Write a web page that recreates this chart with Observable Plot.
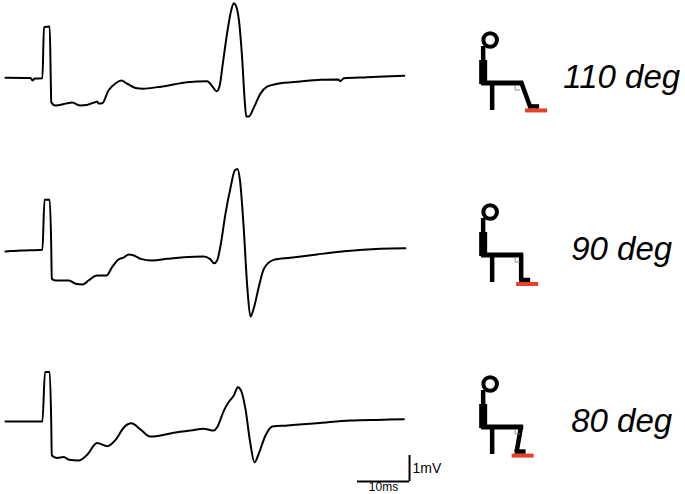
<!DOCTYPE html>
<html><head><meta charset="utf-8">
<script src="https://cdn.jsdelivr.net/npm/d3@7"></script>
<script src="https://cdn.jsdelivr.net/npm/@observablehq/plot@0.6"></script>
<style>html,body{margin:0;padding:0;background:#fff;} #chart{width:685px;height:494px;}</style>
</head><body><div id="chart"></div>
<script>
// Knee angles (one trace per posture)
const angles = [110, 90, 80];
const labels = angles.map(a => a + " deg");

// Traces: [time (ms), voltage (mV)]
const trace110 = [
  [0,-0.01],[4.8,-0.02],[5.2,-0.12],[5.6,-0.04],[7.1,-0.03],[7.4,1.93],[8.5,1.96],[8.7,0],
  [8.8,-0.95],[9.6,-1.08],[11.9,-0.99],[12.8,-0.96],[14.4,-1.08],[17.3,-0.95],[17.6,-0.92],
  [17.9,-1.0],[18.6,-0.99],[19.8,-0.5],[21.2,-0.22],[22.3,-0.12],[23.4,-0.24],[25.0,-0.40],
  [26.5,-0.43],[29.2,-0.37],[32.3,-0.27],[34.9,-0.18],[38.8,-0.14],[39.8,-0.35],[40.6,-0.53],
  [41.2,-0.31],[41.7,0.40],[42.6,1.68],[43.4,2.58],[43.9,2.86],[44.2,2.81],[44.9,2.19],
  [45.5,0.78],[46.0,-0.88],[46.3,-1.5],[46.8,-1.5],[47.8,-1.14],[49.0,-0.63],[50.3,-0.35],
  [52.3,-0.24],[56.7,-0.15],[60.6,-0.09],[64.0,-0.08],[64.4,-0.14],[65.1,-0.03],[69.6,0.01],
  [72.8,0.04],[76.7,0.07]
];
const trace90 = [
  [0,-0.08],[1.0,-0.06],[2.9,-0.04],[7.1,-0.01],[7.5,1.91],[8.5,1.91],[8.8,0.09],[8.9,-1.13],
  [9.6,-1.19],[12.2,-1.19],[13.5,-1.32],[14.8,-1.35],[16.0,-1.19],[17.6,-1.0],[18.6,-1.0],
  [19.4,-1.0],[20.5,-0.68],[21.5,-0.42],[22.8,-0.30],[23.7,-0.19],[24.7,-0.23],[26.0,-0.36],
  [28.2,-0.42],[31.1,-0.36],[34.3,-0.30],[38.1,-0.27],[39.3,-0.36],[40.1,-0.53],[40.7,-0.42],
  [41.3,0.09],[42.3,1.37],[43.3,2.40],[44.1,3.04],[44.6,3.10],[45.1,2.65],[45.8,0.86],
  [46.5,-1.45],[47.1,-2.58],[47.8,-2.22],[48.7,-1.45],[49.7,-0.74],[51.6,-0.40],[54.8,-0.32],
  [59.9,-0.19],[65.1,-0.07],[72.1,0.03],[76.9,0.05]
];
const trace80 = [
  [0,0],[4.2,0],[7.1,0],[7.6,1.9],[8.5,1.9],[8.8,-0.09],[8.9,-1.31],[9.9,-1.4],[11.2,-1.37],
  [12.2,-1.47],[14.1,-1.5],[15.7,-1.28],[17.6,-0.83],[19.6,-0.95],[21.2,-0.70],[22.8,-0.22],
  [24.2,-0.07],[26.0,-0.31],[27.8,-0.58],[29.8,-0.54],[33.0,-0.41],[35.6,-0.35],[38.1,-0.28],
  [40.1,-0.35],[40.7,-0.22],[42.0,0.42],[42.9,0.74],[43.9,1.0],[44.7,1.32],[45.3,1.19],
  [46.2,0.42],[47.0,-0.73],[47.9,-1.57],[48.7,-1.24],[50.0,-0.54],[51.3,-0.19],[54.2,-0.15],
  [59.9,-0.07],[66.3,0.04],[72.8,0.07],[76.6,0.09]
];
const traces = [trace110, trace90, trace80];

// Scale bar values
const scaleBarMs = 10;
const scaleBarMv = 1;
const scaleBarStartMs = 67.7;
const scaleBarLevelMv = -2.31;
const scaleBarLabels = ["10ms", "1mV"];

// ---- build ----
const rows = traces.flatMap((tr, i) => tr.map(([t, v]) => ({t, v, label: labels[i]})));
const bottom = labels[labels.length - 1];
const barH = [{x1: scaleBarStartMs, x2: scaleBarStartMs + scaleBarMs, y: scaleBarLevelMv, label: bottom}];
const barV = [{x: scaleBarStartMs + scaleBarMs, y1: scaleBarLevelMv, y2: scaleBarLevelMv + scaleBarMv, label: bottom}];
const labelX = 118.5;
const font = "'Liberation Sans', Arial, Helvetica, sans-serif";

const plot = Plot.plot({
  width: 685, height: 494,
  marginTop: 0, marginBottom: 0, marginLeft: 0, marginRight: 0,
  x: {domain: [-0.96, 130.77], axis: null},
  y: {domain: [-2.808, 2.962], axis: null},
  fy: {domain: labels, axis: null, paddingInner: 0.12791, paddingOuter: 0},
  style: {background: "#fff", fontFamily: font},
  marks: [
    Plot.line(rows, {x: "t", y: "v", fy: "label", z: "label", curve: "monotone-x", stroke: "#000", strokeWidth: 2, strokeLinejoin: "round", strokeLinecap: "round"}),
    Plot.text(labels, {x: () => labelX, y: () => 0, fy: d => d, text: d => d, fontSize: 33, fontStyle: "italic", fill: "#000", textAnchor: "middle", lineAnchor: "middle", fontFamily: font}),
    Plot.ruleY(barH, {x1: "x1", x2: "x2", y: "y", fy: "label", stroke: "#000", strokeWidth: 2}),
    Plot.ruleX(barV, {x: "x", y1: "y1", y2: "y2", fy: "label", stroke: "#000", strokeWidth: 2}),
    Plot.text(barH, {x: d => (d.x1 + d.x2) / 2, y: "y", fy: "label", text: () => scaleBarLabels[0], dy: 1, lineAnchor: "top", fontSize: 12, fill: "#000", fontFamily: font}),
    Plot.text(barV, {x: "x", y: d => (d.y1 + d.y2) / 2, fy: "label", text: () => scaleBarLabels[1], textAnchor: "start", lineAnchor: "middle", dx: 3, fontSize: 14, fill: "#000", fontFamily: font})
  ]
});
document.getElementById("chart").appendChild(plot);

// ---- posture icons (decoration) ----
const xs = plot.scale("x"), ys = plot.scale("y"), fys = plot.scale("fy");
const svg = d3.select(plot);
const iconMs = 93.3;
angles.forEach((a, i) => {
  const zeroY = fys.apply(labels[i]) + ys.apply(0);
  const hx = xs.apply(iconMs), hy = zeroY - 37;
  const g = svg.append("g").attr("transform", `translate(${hx},${hy})`);
  const ln = (x1, y1, x2, y2, w) => g.append("line").attr("x1", x1).attr("y1", y1).attr("x2", x2).attr("y2", y2)
      .attr("stroke", "#000").attr("stroke-width", w).attr("stroke-linecap", "butt");
  ln(-7, 6, -7, 45, 4.5);                 // torso
  g.append("rect").attr("x", -11).attr("y", 20).attr("width", 8).attr("height", 24).attr("fill", "#000");
  ln(-9, 43, 33, 43, 5);                  // thigh
  ln(2, 43, 2, 70, 4.5);                  // chair leg
  const phi = (a - 90) * Math.PI / 180;
  const kx = 31, ky = 42, L = 26;
  const ax = kx + L * Math.sin(phi), ay = ky + L * Math.cos(phi);
  ln(kx, ky, ax, ay, 4.5);                // shank
  ln(ax - 2, ay, ax + 9, ay, 4.5);        // foot
  g.append("path").attr("d", `M${kx - 6},${ky + 3} L${kx - 6},${ky + 8} L${kx - 1},${ky + 8}`)
    .attr("fill", "none").attr("stroke", "#777").attr("stroke-width", 0.8);
  g.append("rect").attr("x", ax - 5).attr("y", ay + 2).attr("width", 22).attr("height", 4).attr("fill", "#e5402a");
  g.append("circle").attr("cx", 0).attr("cy", 0).attr("r", 6.8).attr("fill", "#fff").attr("stroke", "#000").attr("stroke-width", 4);
});
</script>
</body></html>
